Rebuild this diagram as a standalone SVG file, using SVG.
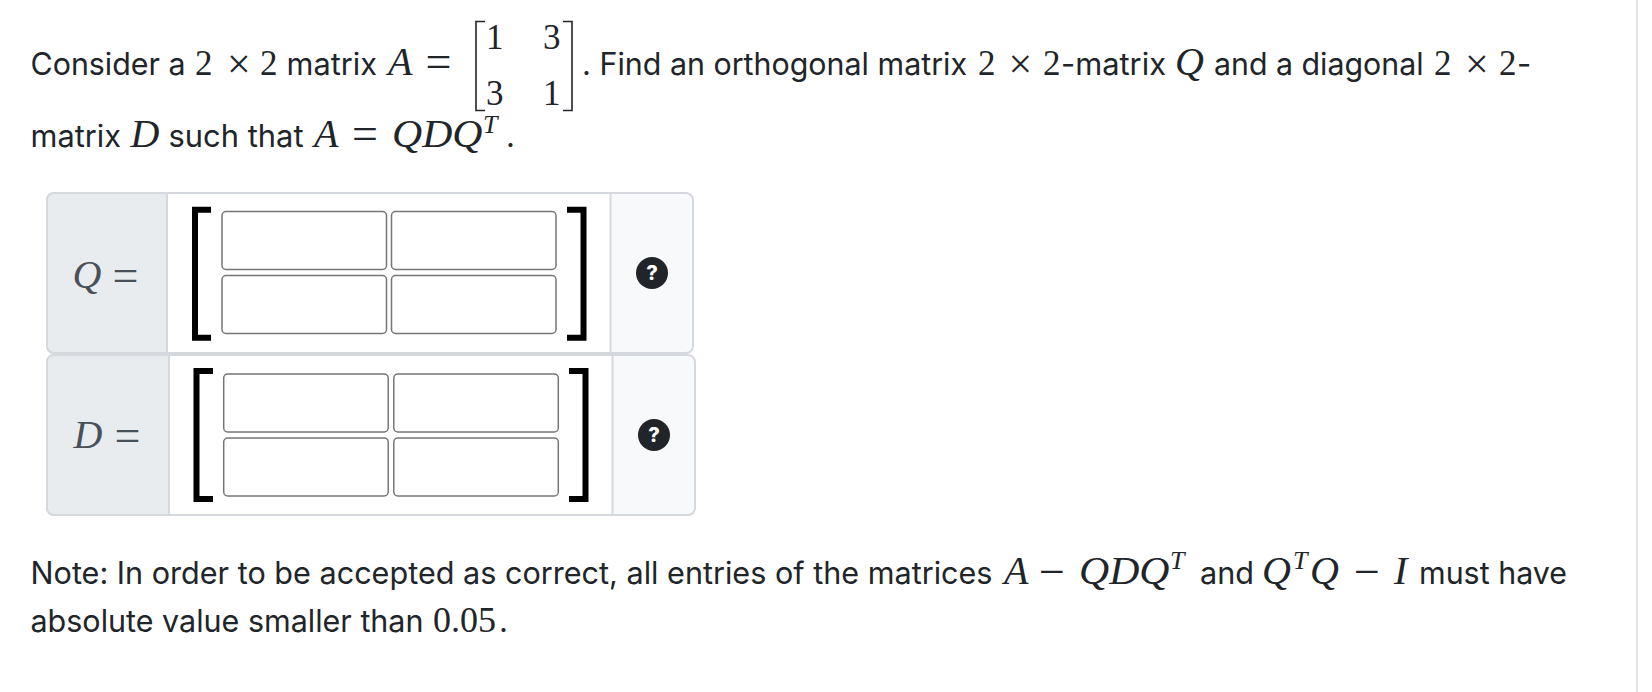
<svg xmlns="http://www.w3.org/2000/svg" width="1652" height="692" viewBox="0 0 1652 692">
<style>
.t{font-family:"Inter","Liberation Sans",sans-serif;font-size:31px;fill:#212529}
.m{font-family:"Liberation Serif",serif;font-size:40px;fill:#212529}
.i{font-style:italic}
.s{font-size:26px}
.n{font-size:35px}
.o{font-size:46px}
.x{font-size:42px}
.lab{fill:#495057}
.inp{fill:#fff;stroke:#767676;stroke-width:1.5}
.br{fill:none;stroke:#000;stroke-width:6}
.thin{fill:none;stroke:#212529;stroke-width:1.6}
.q{font-family:"Inter","Liberation Sans",sans-serif;font-size:20px;font-weight:800;fill:#fff;text-anchor:middle}
.bd{stroke:#d5d9de;stroke-width:2}
</style>
<rect width="1652" height="692" fill="#fff"/>
<rect x="1636" y="0" width="2" height="692" fill="#e4e4e4"/>
<g id="prompt">
<text class="t" x="30.500" y="75" textLength="155" lengthAdjust="spacingAndGlyphs">Consider a</text>
<text class="m n" x="195" y="75">2</text><text class="m x" x="227" y="78">×</text><text class="m n" x="260" y="75">2</text>
<text class="t" x="286.500" y="75" textLength="90.500" lengthAdjust="spacingAndGlyphs">matrix</text>
<text class="m i" x="388" y="75">A</text><text class="m o" x="425.500" y="77">=</text>
<path class="thin" d="M485 21.500H476V110.500H485M563 21.500H572V110.500H563"/>
<text class="m n" x="486" y="49">1</text><text class="m n" x="543" y="49">3</text>
<text class="m n" x="486" y="105">3</text><text class="m n" x="543" y="105">1</text>
<text class="t" x="582" y="75">.</text>
<text class="t" x="599.500" y="75" textLength="367.500" lengthAdjust="spacingAndGlyphs">Find an orthogonal matrix</text>
<text class="m n" x="978" y="75">2</text><text class="m x" x="1008.500" y="78">×</text><text class="m n" x="1043" y="75">2</text>
<text class="t" x="1061" y="75" textLength="105" lengthAdjust="spacingAndGlyphs">-matrix</text>
<text class="m i" x="1175" y="75">Q</text>
<text class="t" x="1214" y="75" textLength="209.500" lengthAdjust="spacingAndGlyphs">and a diagonal</text>
<text class="m n" x="1434" y="75">2</text><text class="m x" x="1465" y="78">×</text><text class="m n" x="1499" y="75">2</text>
<text class="t" x="1517" y="75">-</text>
<text class="t" x="30.500" y="147" textLength="90.500" lengthAdjust="spacingAndGlyphs">matrix</text>
<text class="m i" x="130.500" y="147">D</text>
<text class="t" x="168.500" y="147" textLength="135" lengthAdjust="spacingAndGlyphs">such that</text>
<text class="m i" x="314" y="147">A</text><text class="m o" x="352" y="149">=</text>
<text class="m i" x="392" y="147" textLength="90.500" lengthAdjust="spacingAndGlyphs">QDQ</text>
<text class="m i s" x="483" y="133">T</text>
<text class="t" x="506" y="147">.</text>
</g>
<g id="row-q">
<rect x="47" y="193" width="646" height="160" rx="7" fill="#f8f9fa" class="bd"/>
<path d="M167 193H54a7 7 0 0 0-7 7V346a7 7 0 0 0 7 7H167Z" fill="#e9ecef" class="bd"/>
<rect x="167" y="193" width="443.500" height="160" fill="#fff" class="bd"/>
<path class="br" d="M211 209.700H195V337.800H211M567 209.700H583.500V337.800H567"/>
<rect class="inp" x="222" y="211.500" width="164.500" height="58" rx="4"/>
<rect class="inp" x="391.500" y="211.500" width="164.500" height="58" rx="4"/>
<rect class="inp" x="222" y="275.500" width="164.500" height="58" rx="4"/>
<rect class="inp" x="391.500" y="275.500" width="164.500" height="58" rx="4"/>
<text class="m i lab" x="72.500" y="287.500">Q</text><text class="m o lab" x="112.500" y="290.500">=</text>
<circle cx="652" cy="273" r="16" fill="#212529"/><text class="q" x="652" y="280">?</text>
</g>
<g id="row-d">
<rect x="47" y="355" width="648" height="160" rx="7" fill="#f8f9fa" class="bd"/>
<path d="M169 355H54a7 7 0 0 0-7 7V508a7 7 0 0 0 7 7H169Z" fill="#e9ecef" class="bd"/>
<rect x="169" y="355" width="443.500" height="160" fill="#fff" class="bd"/>
<path class="br" d="M213 371H196.500V499H213M569 371H585.500V499H569"/>
<rect class="inp" x="223.700" y="374" width="164.500" height="58" rx="4"/>
<rect class="inp" x="393.800" y="374" width="164.500" height="58" rx="4"/>
<rect class="inp" x="223.700" y="438" width="164.500" height="58" rx="4"/>
<rect class="inp" x="393.800" y="438" width="164.500" height="58" rx="4"/>
<text class="m i lab" x="73.500" y="447.500">D</text><text class="m o lab" x="114.500" y="450.500">=</text>
<circle cx="654" cy="435" r="16" fill="#212529"/><text class="q" x="654" y="442">?</text>
</g>
<g id="note">
<text class="t" x="30.500" y="584" textLength="962" lengthAdjust="spacingAndGlyphs">Note: In order to be accepted as correct, all entries of the matrices</text>
<text class="m i" x="1004" y="584">A</text><text class="m o" x="1039" y="587">−</text>
<text class="m i" x="1079" y="584" textLength="90.500" lengthAdjust="spacingAndGlyphs">QDQ</text><text class="m i s" x="1170" y="569">T</text>
<text class="t" x="1200" y="584" textLength="54" lengthAdjust="spacingAndGlyphs">and</text>
<text class="m i" x="1262" y="584">Q</text><text class="m i s" x="1293" y="569">T</text><text class="m i" x="1310" y="584">Q</text>
<text class="m o" x="1354" y="587">−</text><text class="m i" x="1394" y="584">I</text>
<text class="t" x="1419" y="584" textLength="148" lengthAdjust="spacingAndGlyphs">must have</text>
<text class="t" x="30.500" y="632" textLength="393" lengthAdjust="spacingAndGlyphs">absolute value smaller than</text>
<text class="m n" x="433" y="632" textLength="63" lengthAdjust="spacingAndGlyphs">0.05</text>
<text class="t" x="499" y="632">.</text>
</g>
</svg>
